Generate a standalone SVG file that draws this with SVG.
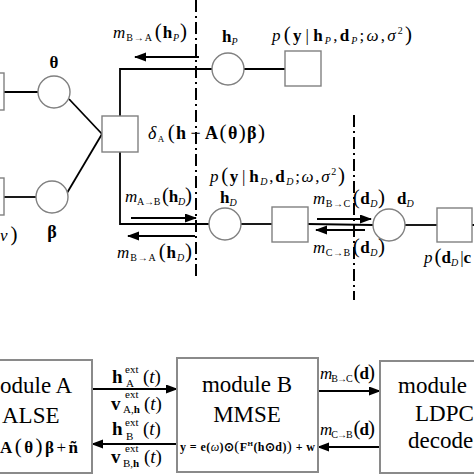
<svg xmlns="http://www.w3.org/2000/svg" width="474" height="474" viewBox="0 0 474 474">
<style>
text{font-family:"Liberation Serif","Times New Roman",serif;fill:#000}
.t{font-size:17px}
.b{font-weight:bold}
.i{font-style:italic}
.s{font-size:10px}
.p{font-size:21px}
.node{fill:#fff;stroke:#808080;stroke-width:1.4}
.box{fill:#fff;stroke:#8a8a8a;stroke-width:2}
.ln{stroke:#000;stroke-width:1.8;fill:none}
.arr{stroke:#000;stroke-width:2;fill:none;marker-end:url(#ah)}
.dd{stroke:#000;stroke-width:2;fill:none;stroke-dasharray:12 4 2 4}
.mod{font-size:23px}
.e{font-size:11px}
.bt{font-size:19px}
</style>
<defs>
<marker id="ah" markerUnits="userSpaceOnUse" markerWidth="12" markerHeight="10" refX="11" refY="4.5" orient="auto"><path d="M0,0 L12,4.5 L0,9 z" fill="#000"/></marker>
</defs>

<g id="connectors">
<line class="ln" x1="4" y1="92" x2="38" y2="92"/>
<line class="ln" x1="4" y1="197" x2="36" y2="197"/>
<line class="ln" x1="69" y1="99" x2="102" y2="134"/>
<line class="ln" x1="67" y1="193" x2="102" y2="134"/>
<polyline class="ln" points="120,116 120,69 212,69"/>
<line class="ln" x1="244" y1="69" x2="285" y2="69"/>
<polyline class="ln" points="120,152 120,224 209,224"/>
<line class="ln" x1="241" y1="224" x2="272" y2="224"/>
<line class="ln" x1="308" y1="224" x2="373" y2="225"/>
<line class="ln" x1="405" y1="225" x2="437" y2="225"/>
<line class="ln" x1="472" y1="225" x2="474" y2="225"/>
<line class="arr" x1="199" y1="57" x2="135" y2="57"/>
<line class="arr" x1="131" y1="218" x2="196" y2="218"/>
<line class="arr" x1="195" y1="236" x2="128" y2="236"/>
<line class="arr" x1="317" y1="219" x2="371" y2="219"/>
<line class="arr" x1="365" y1="230" x2="316" y2="230"/>
<line class="arr" x1="92" y1="389" x2="177" y2="389"/>
<line class="arr" x1="177" y1="444" x2="92" y2="444"/>
<line class="arr" x1="318" y1="391" x2="380" y2="391"/>
<line class="arr" x1="380" y1="447" x2="318" y2="447"/>
<line class="dd" x1="196" y1="0" x2="196" y2="278"/>
<line class="dd" x1="354" y1="115" x2="354" y2="300"/>
</g>

<g id="sqTop"><rect class="node" x="-30" y="73" width="34" height="37"/></g>
<g id="sqBot"><rect class="node" x="-30" y="178" width="34" height="37"/></g>
<g id="theta"><circle class="node" cx="54" cy="92" r="16"/><text class="t b" x="54" y="68" text-anchor="middle">θ</text></g>
<g id="beta"><circle class="node" cx="52" cy="197" r="16"/><text class="b" style="font-size:18px" x="52" y="238" text-anchor="middle">β</text></g>
<g id="nu"><text class="t" x="0" y="241"><tspan class="i">ν</tspan><tspan class="p" dx="3">)</tspan></text></g>

<g id="deltaA"><rect class="node" x="102" y="116" width="36" height="36"/>
<text x="148" y="139" style="font-size:18px" textLength="117" lengthAdjust="spacing"><tspan class="i">δ</tspan><tspan style="font-size:9px" dy="3">A</tspan><tspan class="p" dy="-3" dx="2">(</tspan><tspan class="b">h</tspan><tspan dx="3">−</tspan><tspan class="b" dx="3">A</tspan><tspan class="p">(</tspan><tspan class="b">θ</tspan><tspan class="p">)</tspan><tspan class="b">β</tspan><tspan class="p">)</tspan></text></g>

<g id="hP"><circle class="node" cx="228" cy="69" r="16"/><text class="t" x="222" y="42"><tspan class="b">h</tspan><tspan class="s i" dy="3">P</tspan></text></g>
<g id="pY1"><rect class="node" x="285" y="51" width="36" height="35"/>
<text class="t" x="272" y="41" textLength="140" lengthAdjust="spacing"><tspan class="i">p</tspan><tspan class="p" dx="1">(</tspan><tspan class="b">y</tspan><tspan dx="2">|</tspan><tspan class="b" dx="2">h</tspan><tspan class="s i" dy="3">P</tspan><tspan dy="-3">,</tspan><tspan class="b">d</tspan><tspan class="s i" dy="3">P</tspan><tspan dy="-3">;</tspan><tspan class="i">ω</tspan>,<tspan class="i">σ</tspan><tspan class="s" dy="-7">2</tspan><tspan class="p" dy="7">)</tspan></text></g>

<g id="hD"><circle class="node" cx="225" cy="224" r="16"/><text class="t" x="220" y="203"><tspan class="b">h</tspan><tspan class="s i" dy="3">D</tspan></text></g>
<g id="pY2"><rect class="node" x="272" y="207" width="36" height="35"/>
<text class="t" x="210" y="182" textLength="135" lengthAdjust="spacing"><tspan class="i">p</tspan><tspan class="p" dx="1">(</tspan><tspan class="b">y</tspan><tspan dx="2">|</tspan><tspan class="b" dx="2">h</tspan><tspan class="s i" dy="3">D</tspan><tspan dy="-3">,</tspan><tspan class="b">d</tspan><tspan class="s i" dy="3">D</tspan><tspan dy="-3">;</tspan><tspan class="i">ω</tspan>,<tspan class="i">σ</tspan><tspan class="s" dy="-7">2</tspan><tspan class="p" dy="7">)</tspan></text></g>

<g id="dD"><circle class="node" cx="389" cy="225" r="16"/><text class="t" x="397" y="204"><tspan class="b">d</tspan><tspan class="s i" dy="3">D</tspan></text></g>
<g id="pD"><rect class="node" x="437" y="208" width="35" height="34"/>
<text class="t" x="424" y="263"><tspan class="i">p</tspan><tspan class="p" dx="2">(</tspan><tspan class="b">d</tspan><tspan class="s i" dy="3">D</tspan><tspan dy="-3" dx="2">|</tspan><tspan class="b">c</tspan></text></g>

<g id="msgLabels">
<text class="t" x="113" y="38" textLength="74" lengthAdjust="spacing"><tspan class="i">m</tspan><tspan class="s" dy="3">B→A</tspan><tspan class="p" dy="-3" dx="2">(</tspan><tspan class="b">h</tspan><tspan class="s i" dy="3">P</tspan><tspan class="p" dy="-3">)</tspan></text>
<text class="t" x="125" y="202" textLength="67" lengthAdjust="spacing"><tspan class="i">m</tspan><tspan class="s" dy="3">A→B</tspan><tspan class="p" dy="-3" dx="2">(</tspan><tspan class="b">h</tspan><tspan class="s i" dy="3">D</tspan><tspan class="p" dy="-3">)</tspan></text>
<text class="t" x="117" y="258" textLength="75" lengthAdjust="spacing"><tspan class="i">m</tspan><tspan class="s" dy="3">B→A</tspan><tspan class="p" dy="-3" dx="2">(</tspan><tspan class="b">h</tspan><tspan class="s i" dy="3">D</tspan><tspan class="p" dy="-3">)</tspan></text>
<text class="t" x="313" y="204" textLength="72" lengthAdjust="spacing"><tspan class="i">m</tspan><tspan class="s" dy="3">B→C</tspan><tspan class="p" dy="-3" dx="2">(</tspan><tspan class="b">d</tspan><tspan class="s i" dy="3">D</tspan><tspan class="p" dy="-3">)</tspan></text>
<text class="t" x="313" y="253" textLength="72" lengthAdjust="spacing"><tspan class="i">m</tspan><tspan class="s" dy="3">C→B</tspan><tspan class="p" dy="-3" dx="2">(</tspan><tspan class="b">d</tspan><tspan class="s i" dy="3">D</tspan><tspan class="p" dy="-3">)</tspan></text>
</g>

<g id="moduleA"><rect class="box" x="-48" y="360" width="140" height="113"/>
<text class="mod" x="0" y="393">odule A</text>
<text class="mod" x="2" y="423">ALSE</text>
<text style="font-size:17px" class="b" x="0" y="453" textLength="78" lengthAdjust="spacing"><tspan>A</tspan><tspan class="p" style="font-weight:normal">(</tspan>θ<tspan class="p" style="font-weight:normal">)</tspan>β<tspan style="font-weight:normal">+</tspan>ñ</text>
</g>
<g id="moduleB"><rect class="box" x="177" y="358" width="141" height="114"/>
<text class="mod" x="247" y="392" text-anchor="middle">module B</text>
<text class="mod" x="247" y="422" text-anchor="middle">MMSE</text>
<text x="180" y="451" style="font-size:12px" class="b" textLength="135" lengthAdjust="spacing">y = e(<tspan class="i" style="font-weight:normal">ω</tspan>)⊙<tspan style="font-size:15px;font-weight:normal">(</tspan>F<tspan style="font-size:7px" dy="-5">H</tspan><tspan dy="5">(h⊙d)</tspan><tspan style="font-size:15px;font-weight:normal">)</tspan> + w</text>
</g>
<g id="moduleC"><rect class="box" x="380" y="361" width="120" height="112"/>
<text class="mod" x="398" y="393">module</text>
<text class="mod" x="415" y="421">LDPC</text>
<text class="mod" x="408" y="448">decode</text>
</g>

<g id="busLabels">
<text class="bt"><tspan class="b" x="112" y="383">h</tspan><tspan class="e" x="125" y="373">ext</tspan><tspan class="e" x="126" y="387">A</tspan><tspan x="143" y="383">(</tspan><tspan class="i">t</tspan>)<tspan class="b" x="111" y="410">v</tspan><tspan class="e" x="125" y="398">ext</tspan><tspan class="e" x="123" y="413">A,</tspan><tspan class="e b">h</tspan><tspan x="144" y="410">(</tspan><tspan class="i">t</tspan>)</text>
<text class="bt"><tspan class="b" x="112" y="435">h</tspan><tspan class="e" x="125" y="426">ext</tspan><tspan class="e" x="126" y="440">B</tspan><tspan x="143" y="435">(</tspan><tspan class="i">t</tspan>)<tspan class="b" x="111" y="463">v</tspan><tspan class="e" x="125" y="452">ext</tspan><tspan class="e" x="123" y="467">B,</tspan><tspan class="e b">h</tspan><tspan x="144" y="463">(</tspan><tspan class="i">t</tspan>)</text>
<text class="t" x="320" y="379" textLength="55" lengthAdjust="spacing"><tspan class="i">m</tspan><tspan class="s" dy="3">B→C</tspan><tspan class="p" dy="-3" dx="2">(</tspan><tspan class="b">d</tspan><tspan class="p">)</tspan></text>
<text class="t" x="320" y="435" textLength="55" lengthAdjust="spacing"><tspan class="i">m</tspan><tspan class="s" dy="3">C→B</tspan><tspan class="p" dy="-3" dx="2">(</tspan><tspan class="b">d</tspan><tspan class="p">)</tspan></text>
</g>
</svg>
